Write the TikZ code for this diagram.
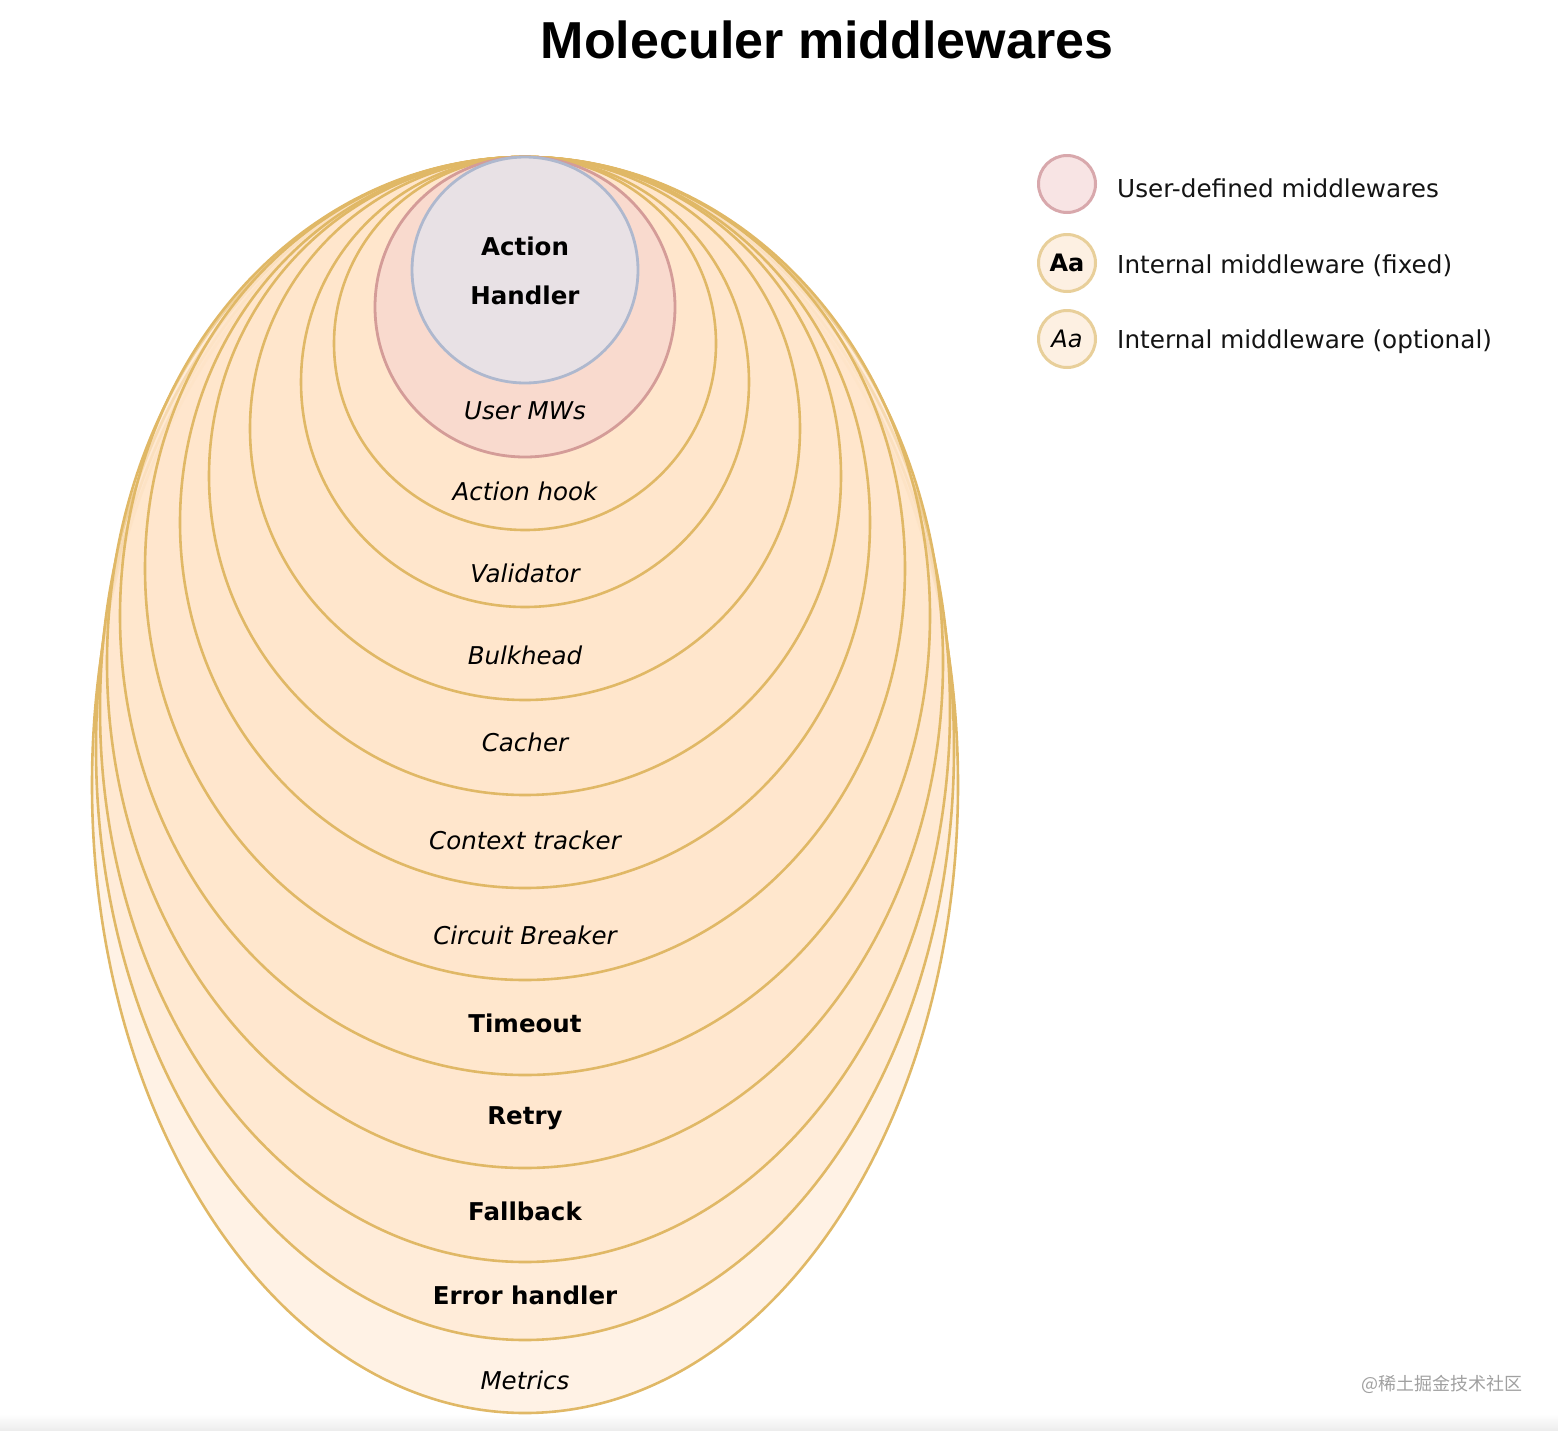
\documentclass[tikz,border=0pt]{standalone}
\usepackage{fontspec}
\setmainfont{DejaVu Sans}
\newfontfamily\titlefont{Liberation Sans}
\newfontfamily\cjk{Noto Sans CJK SC}
\usetikzlibrary{shapes.geometric}
\definecolor{ringfill}{HTML}{FFE6CC}
\definecolor{ringdraw}{HTML}{E0B866}
\definecolor{userfill}{HTML}{F9DACE}
\definecolor{userdraw}{HTML}{D49C98}
\definecolor{handfill}{HTML}{E8E1E5}
\definecolor{handdraw}{HTML}{AEB8CE}
\definecolor{legpinkfill}{HTML}{F8E4E4}
\definecolor{legpinkdraw}{HTML}{D8A8AC}
\definecolor{legringfill}{HTML}{FDF0E2}
\definecolor{legringdraw}{HTML}{E8CF9A}
\definecolor{wmark}{HTML}{A0A0A0}
\tikzset{
  ring/.style={ellipse, draw=ringdraw, line width=2.6pt, fill=ringfill, fill opacity=0.5,
    inner sep=0pt, outer sep=0pt, anchor=north},
  lbl/.style={inner sep=0pt, font=\fontsize{24.5}{29}\selectfont, text=black},
  leglbl/.style={inner sep=0pt, anchor=west, font=\fontsize{24.7}{29}\selectfont, text=black!92},
  legcirc/.style={circle, minimum size=57pt, inner sep=0pt, line width=3pt,
    font=\fontsize{24}{28}\selectfont}
}
\begin{document}
\begin{tikzpicture}[x=1pt,y=-1pt]
\useasboundingbox (0,0) rectangle (1558,1430);
\fill[top color=white, bottom color=black!7] (0,1414) rectangle (1558,1430);

% title
\node[inner sep=0pt, font=\titlefont\bfseries\fontsize{52}{60}\selectfont] (title) at (827,40) {Moleculer middlewares};

% nested rings, outermost first
\coordinate (top) at (525,157);
\node[ring, minimum width=866pt, minimum height=1256pt] (metrics) at (top) {};
\node[ring, minimum width=858pt, minimum height=1183pt] (errh) at (top) {};
\node[ring, minimum width=850pt, minimum height=1105pt] (fallback) at (top) {};
\node[ring, minimum width=836pt, minimum height=1011pt] (retry) at (top) {};
\node[ring, minimum width=810pt, minimum height=918pt] (timeout) at (top) {};
\node[ring, minimum width=760pt, minimum height=823pt] (circuit) at (top) {};
\node[ring, minimum width=690pt, minimum height=731pt] (context) at (top) {};
\node[ring, minimum width=632pt, minimum height=638pt] (cacher) at (top) {};
\node[ring, minimum width=550pt, minimum height=543pt] (bulkhead) at (top) {};
\node[ring, minimum width=448pt, minimum height=450pt] (validator) at (top) {};
\node[ring, minimum width=382pt, minimum height=373pt] (ahook) at (top) {};
\node[circle, draw=userdraw, fill=userfill, line width=2.8pt, minimum size=300pt,
  inner sep=0pt, outer sep=0pt, anchor=north] (usermw) at (top) {};
\node[circle, draw=handdraw, fill=handfill, line width=2.8pt, minimum size=226pt,
  inner sep=0pt, outer sep=0pt, anchor=north] (handler) at (top) {};

% labels
\node[lbl, font=\bfseries\fontsize{24.5}{29}\selectfont, align=center] (l-handler) at (525,271)
  {Action\\[20pt]Handler};
\node[lbl] (l-usermw) at (525,411) {\itshape User MWs};
\node[lbl] (l-ahook) at (525,491) {\itshape Action hook};
\node[lbl] (l-validator) at (525,573) {\itshape Validator};
\node[lbl] (l-bulkhead) at (525,655) {\itshape Bulkhead};
\node[lbl] (l-cacher) at (525,742) {\itshape Cacher};
\node[lbl] (l-context) at (525,840) {\itshape Context tracker};
\node[lbl] (l-circuit) at (525,935) {\itshape Circuit Breaker};
\node[lbl] (l-timeout) at (525,1023) {\bfseries Timeout};
\node[lbl] (l-retry) at (525,1118) {\bfseries Retry};
\node[lbl] (l-fallback) at (525,1211) {\bfseries Fallback};
\node[lbl] (l-errh) at (525,1295) {\bfseries Error handler};
\node[lbl] (l-metrics) at (525,1380) {\itshape Metrics};

% legend
\node[legcirc, draw=legpinkdraw, fill=legpinkfill] (leg1) at (1067,184) {};
\node[legcirc, draw=legringdraw, fill=legringfill] (leg2) at (1067,263) {\bfseries Aa};
\node[legcirc, draw=legringdraw, fill=legringfill] (leg3) at (1067,339) {\itshape Aa};
\node[leglbl] (leg1t) at (1117,188) {User-defined middlewares};
\node[leglbl] (leg2t) at (1117,266) {Internal middleware (fixed)};
\node[leglbl] (leg3t) at (1117,342) {Internal middleware (optional)};

% watermark
\node[inner sep=0pt, text=wmark, font=\cjk\fontsize{18}{20}\selectfont] (wm) at (1442,1384) {@稀土掘金技术社区};
\end{tikzpicture}
\end{document}
